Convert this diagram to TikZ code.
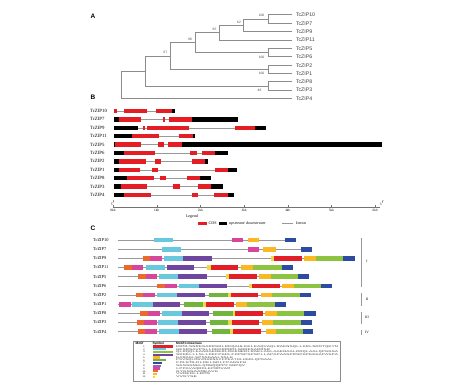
\documentclass[tikz,border=0pt]{standalone}
\usepackage{fontspec}
\setmainfont{Liberation Serif}
\setsansfont{Liberation Sans}
\setmonofont{Liberation Mono}
\usepackage{tikz}

\newcommand{\fsz}[1]{\fontsize{#1}{#1}\selectfont}
\definecolor{cdsred}{RGB}{228,30,36}
\definecolor{mred}{RGB}{226,30,38}
\definecolor{mcyan}{RGB}{105,200,222}
\definecolor{mpurple}{RGB}{110,70,160}
\definecolor{mgreen}{RGB}{140,195,65}
\definecolor{mgreenb}{RGB}{115,180,60}
\definecolor{mgold}{RGB}{250,185,35}
\definecolor{mnavy}{RGB}{45,75,160}
\definecolor{mmag}{RGB}{215,70,155}
\definecolor{morange}{RGB}{235,105,45}
\definecolor{myellow}{RGB}{240,215,70}
\definecolor{mviolet}{RGB}{150,100,190}

\begin{document}
\begin{tikzpicture}[x = 1pt , y = -1pt ,
    branch/.style = {draw = black!45 , line width = 0.5pt},
    leaf/.style = {font = \sffamily\fsz{5.2} , text = black!75 , anchor = west , inner sep = 0pt , outer xsep = 4pt},
    boot/.style = {font = \sffamily\fsz{3.3} , text = black!70 , inner sep = 0pt},
    glabel/.style = {font = \fsz{4.8} , anchor = west , inner sep = 0pt},
    clabel/.style = {font = \fsz{4.4} , anchor = west , inner sep = 0pt},
    intron/.style = {draw = black!40 , line width = 0.5pt},
    panel/.style = {font = \sffamily\bfseries\fsz{6.5} , inner sep = 0pt},
    small/.style = {font = \fsz{3.4} , inner sep = 0pt},
    head/.style = {font = \sffamily\bfseries\fsz{3.2} , anchor = west , inner sep = 0pt},
    mseq/.style = {anchor = west , inner sep = 0pt , text = black!65}]
    \useasboundingbox (0,0) rectangle (474,385);

    % A: tree
    \node[panel] (pa) at (93,16) {A};
    \node[leaf] (t10) at (292,14.7) {TcZIP10};
    \node[leaf] (t7) at (292,23.3) {TcZIP7};
    \node[leaf] (t9) at (292,31.7) {TcZIP9};
    \node[leaf] (t11) at (292,40) {TcZIP11};
    \node[leaf] (t5) at (292,48.3) {TcZIP5};
    \node[leaf] (t6) at (292,56.7) {TcZIP6};
    \node[leaf] (t2) at (292,65.3) {TcZIP2};
    \node[leaf] (t1) at (292,73.7) {TcZIP1};
    \node[leaf] (t8) at (292,81.7) {TcZIP8};
    \node[leaf] (t3) at (292,90) {TcZIP3};
    \node[leaf] (t4) at (292,98.7) {TcZIP4};
    \coordinate (n1) at (268,19);
    \coordinate (n2) at (243,25.3);
    \coordinate (n3) at (219.3,32.7);
    \coordinate (n4) at (268,52.5);
    \coordinate (n5) at (195.7,42.6);
    \coordinate (n6) at (268,69.5);
    \coordinate (n7) at (170,56);
    \coordinate (n8) at (268,85.85);
    \coordinate (n9) at (145,71.4);
    \coordinate (rt) at (121.7,85);
    \draw[branch] (n1) |- (t10.west) (n1) |- (t7.west);
    \draw[branch] (n2) |- (n1) (n2) |- (t9.west);
    \draw[branch] (n3) |- (n2) (n3) |- (t11.west);
    \draw[branch] (n4) |- (t5.west) (n4) |- (t6.west);
    \draw[branch] (n5) |- (n3) (n5) |- (n4);
    \draw[branch] (n6) |- (t2.west) (n6) |- (t1.west);
    \draw[branch] (n7) |- (n5) (n7) |- (n6);
    \draw[branch] (n8) |- (t8.west) (n8) |- (t3.west);
    \draw[branch] (n9) |- (n7) (n9) |- (n8);
    \draw[branch] (rt) |- (n9) (rt) |- (t4.west);
    \node[boot] (b1) at (261.5,15.5) {100};
    \node[boot] (b2) at (239,22) {62};
    \node[boot] (b3) at (214.5,29.5) {65};
    \node[boot] (b4) at (190,39) {96};
    \node[boot] (b5) at (165.5,52.5) {67};
    \node[boot] (b6) at (261.5,57.5) {100};
    \node[boot] (b7) at (261.5,73.5) {100};
    \node[boot] (b8) at (259.5,90.5) {46};

    % B: gene structures
    \node[panel] (pb) at (93,97.5) {B};
    \foreach \lab/\y/\xe/\segs in {
        10/111/175/{cdsred/114/116.7,cdsred/124/147.3,cdsred/155.7/172.3,black/172.3/175},
        7/119.4/238.3/{black/114/119.3,cdsred/119.3/140.7,cdsred/163.3/165.3,cdsred/169.3/191.7,black/191.7/238.3},
        9/127.8/266/{black/114/138.3,cdsred/142.7/144.7,cdsred/146.7/189.3,cdsred/235/255,black/255/266},
        11/136.2/195/{black/114/131.7,cdsred/131.7/159.3,cdsred/179.3/193.3,black/193.3/195},
        5/144.6/381.7/{black/114/115,cdsred/115/141,cdsred/157.7/164,cdsred/168.3/182,black/182/381.7},
        6/153/227.7/{black/114/124,cdsred/124/155,cdsred/190/196.7,cdsred/201.7/215,black/215/227.7},
        2/161.4/208.3/{black/114/119.3,cdsred/119.3/146,cdsred/154.7/161.3,cdsred/192.3/205.3,black/205.3/208.3},
        1/169.8/237.3/{black/114/119.3,cdsred/119.3/140.3,cdsred/151.7/158.3,cdsred/215/228.3,black/228.3/237.3},
        8/178.2/210.7/{black/114/126.7,cdsred/126.7/154,cdsred/160/166,cdsred/187.3/200,black/200/210.7},
        3/186.6/223.3/{black/114/120.7,cdsred/120.7/147.3,cdsred/173/180,cdsred/198.3/211,black/211/223.3},
        4/195/234.3/{black/114/124,cdsred/124/151,cdsred/192/198.3,cdsred/214.3/227.7,black/227.7/234.3}}
    {
        \node[glabel] (g\lab) at (90,\y) {TcZIP\lab};
        \draw[intron] (114,\y) -- (\xe,\y);
        \foreach \c/\a/\b in \segs
            \fill[fill = \c] (\a,\y-2.2) rectangle (\b,\y+2.2);
    }
    \draw[draw = black!55 , line width = 0.4pt] (113,206.7) -- (380,206.7);
    \foreach \k in {0,...,6}
    {
        \draw[draw = black!55 , line width = 0.4pt] (113+43.7*\k,206.7) -- (113+43.7*\k,205);
        \node[small] (kb\k) at (113+43.7*\k,210.5) {\k kb};
    }
    \node[small] (five) at (113,203) {5$'$};
    \node[small] (three) at (382,203) {3$'$};
    \node[small , font = \fsz{4}] (leg) at (192,217) {Legend};
    \fill[cdsred] (198,221.5) rectangle (207,225);
    \node[small , font = \fsz{4} , anchor = west] (lcds) at (208.5,223.3) {CDS};
    \fill[black] (219,221.5) rectangle (227,225);
    \node[small , font = \itshape\fsz{4} , anchor = west] (lutr) at (229,223.3) {upstream/ downstream};
    \draw[intron] (282,223.3) -- (293,223.3);
    \node[small , font = \fsz{4} , anchor = west] (lint) at (296,223.3) {Intron};

    % C: motifs
    \node[panel] (pc) at (93,228) {C};
    \foreach \lab/\y/\xe/\boxes in {
        10/240/296/{mcyan/154.3/172.7,mmag/231.7/242.7,mgold/247.7/259,mnavy/285/296},
        7/249.2/312.3/{mcyan/161.7/181,mmag/247.7/259.3,mgold/263.3/275.7,mnavy/301/312.3},
        9/258.3/355/{morange/142.7/150,mmag/150/161.7,mcyan/164.3/183.3,mpurple/183.3/211.7,myellow/270.5/273.5,mred/273.5/302.3,mgold/304/316,mgreen/316/343.3,mnavy/343.3/355},
        11/267.5/292.7/{morange/124/132.3,mmag/132.3/143.3,mcyan/145.7/165,mpurple/166.7/194.3,myellow/207.3/210.7,mred/210.7/238.3,mgold/241/253.3,mgreen/253.3/281.7,mnavy/281.7/292.7},
        5/276.7/309.3/{morange/137.7/145.7,mmag/145.7/156.7,mcyan/159/178.3,mpurple/178.3/206.7,myellow/225.7/229,mred/229/256.7,mgold/259.3/271,mgreen/271/298.3,mnavy/298.3/309.3},
        6/285.9/332.3/{morange/157.3/165,mmag/165/176.7,mcyan/179/199,mpurple/199/226.7,myellow/248.5/252,mred/252/280,mgold/282/294.3,mgreen/294.3/321,mnavy/321/332.3},
        2/295/311/{morange/136/143.3,mmag/143.3/155,mcyan/157.3/176.7,mpurple/176.7/205,mgreenb/209.3/227.7,myellow/227.7/230.7,mred/230.7/258.3,mgold/261/272.3,mgreen/272.3/300,mnavy/300/311},
        1/304.2/286/{mmag/118.5/130.7,mcyan/132/152.5,mpurple/152.5/180,mgreenb/184.3/203.3,myellow/203.3/206,mred/206/234,mgold/236/247.3,mgreen/247.3/275,mnavy/275/286},
        8/313.4/316/{morange/140/147.7,mmag/147.7/160,mcyan/161.7/181.7,mpurple/181.7/209.3,mgreenb/213.3/232.7,myellow/232.7/235.3,mred/235.3/263.3,mgold/265.3/276.7,mgreen/276.7/304.3,mnavy/304.3/316},
        3/322.5/312.3/{morange/136.7/144.3,mmag/144.3/156.7,mcyan/158.3/177.7,mpurple/177.7/206,mgreenb/210/228.3,myellow/228.3/231.7,mred/231.7/259.3,mgold/261.7/273.3,mgreen/273.3/300.7,mnavy/300.7/312.3},
        4/331.7/313.3/{morange/137.7/145,mmag/145/157.3,mcyan/159/179,mpurple/179/206.7,mgreenb/211.7/230,myellow/230/232.7,mred/232.7/260.7,mgold/265.7/275.7,mgreen/275.7/303.3,mnavy/303.3/313.3}}
    {
        \node[clabel] (c\lab) at (93,\y) {TcZIP\lab};
        \draw[intron] (118,\y) -- (\xe,\y);
        \foreach \c/\a/\b in \boxes
            \fill[fill = \c] (\a,\y-2.3) rectangle (\b,\y+2.3);
    }
    % groups
    \draw[intron] (361.7,238) -- (361.7,287);
    \draw[intron] (361.7,293) -- (361.7,305.5);
    \draw[intron] (361.7,311.5) -- (361.7,323.5);
    \draw[intron] (361.7,329.5) -- (361.7,335);
    \node[small , font = \fsz{3.6}] (gI) at (367,261) {I};
    \node[small , font = \fsz{3.6}] (gII) at (367,299) {II};
    \node[small , font = \fsz{3.6}] (gIII) at (367,317.5) {III};
    \node[small , font = \fsz{3.6}] (gIV) at (367,332) {IV};

    % motif legend
    \draw[draw = black!45 , line width = 0.4pt] (133,341) rectangle (340,381);
    \node[head] (hm) at (135.5,343.6) {Motif};
    \node[head] (hs) at (152.3,343.6) {Symbol};
    \node[head] (hc) at (176,343.6) {Motif Consensus};
    \foreach \k/\c/\w/\len/\seq in {
        1/mred/20/162/KRMLSNRESARRSRLRKQAHLEELEAQVAQLRAENSQLLKRLSDMTQKYN,
        2/mcyan/13/94/GESRSAVPSLLDKKRRRMLSNRESARRSR,
        3/mgreen/20/162/QLRQQLEAARAENERLRKENERLRAELAGLAAENAALRRQLAALQPGGSA,
        4/mpurple/20/162/SDDELLLSLLDEFPGDLFDPSPSPSPLLAPAPAASPRSPGPEEGAPASPA,
        5/mgold/7/57/KARAGLSPSSGAALSSLE,
        6/mgreenb/13/97/PSVSQLMGVNHDNSIFPEATHLHGDLQPGAAL,
        7/mnavy/9/70/FDLEMLDLDELGDLFPAGSFW,
        8/mviolet/8/69/SGSSGNGLQMWQQPPFSNPQV,
        9/mmag/7/54/LPPAVAQRDLEPRMVAM,
        10/morange/5/42/GYGSSAAMEAVG,
        11/mgold/4/34/VVDEDLLRMS,
        12/myellow/2.5/21/VVGYSE}
    {
        \node[small , font = \sffamily\fsz{2.3}] (mn\k) at (144,343.75+2.75*\k) {\k};
        \fill[fill = \c] (152.5,343.75+2.75*\k-1.1) rectangle (152.5+\w,343.75+2.75*\k+1.1);
        \node[mseq] (ms\k) at (176,343.75+2.75*\k) {\resizebox{\len pt}{1.8pt}{\ttfamily\seq}};
    }
\end{tikzpicture}
\end{document}
